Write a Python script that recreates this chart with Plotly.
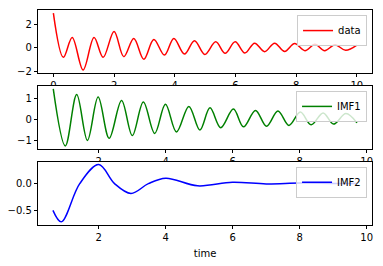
import plotly.graph_objects as go

# ---- values ----
t_data = [0.0, 0.33, 0.62, 0.98, 1.34, 1.64, 2.0, 2.32, 2.65, 2.98, 3.31, 3.66, 3.97, 4.32,
          4.65, 4.99, 5.35, 5.66, 5.99, 6.31, 6.63, 6.96, 7.29, 7.62, 7.95, 8.29, 8.62,
          8.94, 9.28, 9.63, 10.0]
v_data = [3.0, -0.81, 0.90, -1.90, 0.90, -0.81, 1.41, -0.75, 0.81, -0.98, 0.73, -0.62, 0.81,
          -0.53, 0.62, -0.56, 0.53, -0.47, 0.53, -0.44, 0.41, -0.32, 0.41, -0.30, 0.38,
          -0.24, 0.32, -0.24, 0.27, -0.21, 0.24]

t_imf1 = [0.64, 1.0, 1.34, 1.66, 1.98, 2.31, 2.68, 3.0, 3.33, 3.67, 3.99, 4.32, 4.69, 5.02,
          5.32, 5.64, 6.02, 6.32, 6.68, 7.01, 7.35, 7.68, 8.02, 8.34, 8.70, 9.01, 9.38, 9.71]
v_imf1 = [1.44, -1.26, 1.17, -1.0, 1.05, -0.90, 0.89, -0.77, 0.82, -0.67, 0.71, -0.60, 0.61,
          -0.51, 0.54, -0.40, 0.48, -0.36, 0.42, -0.33, 0.39, -0.29, 0.34, -0.26, 0.30,
          -0.23, 0.27, -0.17]

t_imf2 = [0.63, 0.88, 1.43, 2.0, 2.47, 2.96, 3.48, 4.0, 4.95, 5.99, 7.0, 8.0, 9.0, 9.71]
v_imf2 = [-0.49, -0.70, 0.0, 0.35, 0.0, -0.18, 0.0, 0.10, -0.04, 0.025, -0.005, 0.01, 0.005, 0.005]

names = ["data", "IMF1", "IMF2"]
colors = ["#ff0000", "#008000", "#0000ff"]
series = [(t_data, v_data), (t_imf1, v_imf1), (t_imf2, v_imf2)]

x_ranges = [[-0.5, 10.5], [0.19, 10.16], [0.19, 10.16]]
y_ranges = [[-2.15, 3.25], [-1.395, 1.575], [-0.755, 0.40]]
y_dticks = [2, 1, 0.5]
y_formats = ["", "", ".1f"]
x_title = "time"

# ---- layout geometry (pixels) ----
W, H = 383, 266
L, R = 38.3, 373.0
panels_px = [(10.3, 74.0), (87.3, 151.0), (164.3, 228.3)]
FONT = "DejaVu Sans"

fig = go.Figure()
# full-figure helper subplot: makes each panel paint its own white background,
# so a lower panel covers the tick labels of the one above (as in the reference)
fig.add_trace(go.Scatter(x=[], y=[], xaxis="x", yaxis="y", showlegend=False, hoverinfo="skip"))

layout = dict(
    width=W, height=H, margin=dict(l=0, r=0, t=0, b=0),
    paper_bgcolor="white", plot_bgcolor="white",
    font=dict(family=FONT, size=10, color="black"),
    showlegend=True,
    xaxis=dict(domain=[0, 1], visible=False),
    yaxis=dict(domain=[0, 1], visible=False),
)

axis_common = dict(
    showgrid=False, zeroline=False, showline=True, linecolor="black", linewidth=0.8,
    mirror=True, ticks="outside", ticklen=3.5, tickwidth=0.8, tickcolor="black",
    tickfont=dict(family=FONT, size=10, color="black"),
)

for i, ((tx, vy), name, col) in enumerate(zip(series, names, colors)):
    k = i + 2
    leg = "legend" if i == 0 else f"legend{i + 1}"
    fig.add_trace(go.Scatter(
        x=tx, y=vy, mode="lines", name=name, xaxis=f"x{k}", yaxis=f"y{k}",
        line=dict(color=col, width=1.5, shape="spline", smoothing=1.0),
        legend=leg,
    ))
    top, bot = panels_px[i]
    xa = dict(axis_common, domain=[L / W, R / W], anchor=f"y{k}", range=x_ranges[i],
              dtick=2, tick0=0)
    if i == 2:
        xa["title"] = dict(text=x_title, standoff=7, font=dict(family=FONT, size=10, color="black"))
    ya = dict(axis_common, domain=[1 - bot / H, 1 - top / H], anchor=f"x{k}",
              range=y_ranges[i], dtick=y_dticks[i], tick0=0)
    if y_formats[i]:
        ya["tickformat"] = y_formats[i]
    layout[f"xaxis{k}"] = xa
    layout[f"yaxis{k}"] = ya
    layout[leg] = dict(
        x=(R - 5) / W, xanchor="right", y=1 - (top + 5) / H, yanchor="top",
        bgcolor="rgba(255,255,255,0.8)", bordercolor="#cccccc", borderwidth=1,
        font=dict(family=FONT, size=10, color="black"),
    )

fig.update_layout(**layout)
fig.write_html("out.html")
